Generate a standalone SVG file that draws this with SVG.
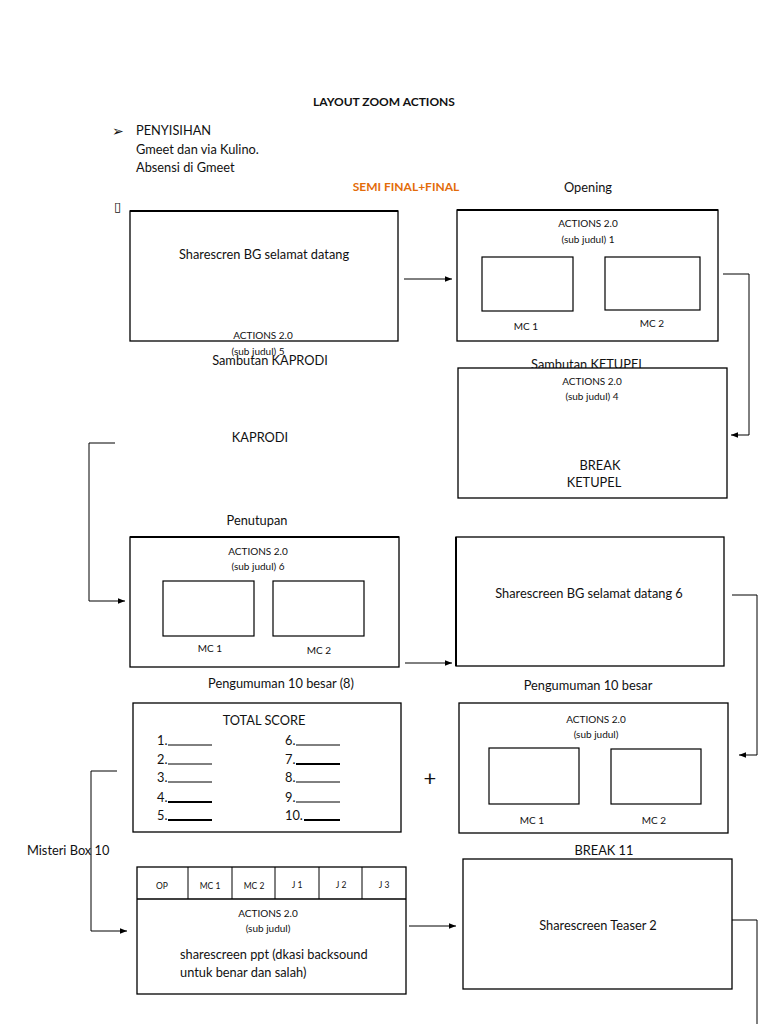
<svg xmlns="http://www.w3.org/2000/svg" width="768" height="1024" viewBox="0 0 768 1024">
<defs>
<style>
text{font-family:Lato,"Open Sans","Liberation Sans",sans-serif;fill:#111}
.t{font-size:12.8px}
.s{font-size:10px}
.xs{font-size:8.5px}
.c{text-anchor:middle}
.box{fill:#fff;stroke:#000;stroke-width:1.3}
.in{fill:#fff;stroke:#000;stroke-width:1.2}
.con{fill:none;stroke:#000;stroke-width:1}
.bl{stroke:#000;stroke-width:1}
</style>
<marker id="ah" viewBox="0 0 10 10" refX="10" refY="5" markerWidth="7" markerHeight="7" orient="auto" markerUnits="userSpaceOnUse"><path d="M0,1 L10,5 L0,9 z" fill="#000"/></marker>
</defs>
<rect width="768" height="1024" fill="#fff"/>

<g id="header">
<text x="384" y="106" class="c" style="font-size:12px;font-weight:bold">LAYOUT ZOOM ACTIONS</text>
<text x="112" y="136" style="font-size:14px;font-family:'DejaVu Sans',sans-serif">➢</text>
<text x="136" y="135" class="t">PENYISIHAN</text>
<text x="136" y="154" class="t">Gmeet dan via Kulino.</text>
<text x="136" y="172" class="t">Absensi di Gmeet</text>
<text x="406" y="191" class="c" style="font-size:12px;font-weight:bold;fill:#E36C0A">SEMI FINAL+FINAL</text>
<text x="114" y="211" style="font-size:13px;font-family:'DejaVu Sans',sans-serif">▯</text>
</g>

<g id="connectors">
<line x1="404" y1="279" x2="452" y2="279" class="con" marker-end="url(#ah)"/>
<polyline points="723,274 749,274 749,435 731,435" class="con" marker-end="url(#ah)"/>
<polyline points="115,443 89,443 89,601 125,601" class="con" marker-end="url(#ah)"/>
<line x1="405" y1="663" x2="452" y2="663" class="con" marker-end="url(#ah)"/>
<polyline points="732,595 757,595 757,755 739,755" class="con" marker-end="url(#ah)"/>
<polyline points="117,771 91,771 91,931 127,931" class="con" marker-end="url(#ah)"/>
<line x1="409" y1="926" x2="456" y2="926" class="con" marker-end="url(#ah)"/>
<polyline points="732,920 757,920 757,1024" class="con"/>
</g>

<g id="node-welcome">
<rect x="130" y="211" width="268" height="130" class="box"/>
<line x1="130" y1="211" x2="398" y2="211" stroke="#000" stroke-width="2"/>
<text x="264" y="259" class="t c">Sharescren BG selamat datang</text>
<text x="263" y="339" class="s c">ACTIONS 2.0</text>
<text x="258" y="355" class="s c">(sub judul) 5</text>
<text x="270" y="365" class="t c">Sambutan KAPRODI</text>
</g>

<g id="node-opening">
<text x="588" y="192" class="t c">Opening</text>
<rect x="457" y="210" width="261" height="131" class="box"/>
<line x1="457" y1="210" x2="718" y2="210" stroke="#000" stroke-width="2"/>
<text x="588" y="227" class="s c">ACTIONS 2.0</text>
<text x="588" y="243" class="s c">(sub judul) 1</text>
<rect x="482" y="257" width="91" height="54" class="in"/>
<rect x="605" y="257" width="95" height="53" class="in"/>
<text x="526" y="330" class="s c">MC 1</text>
<text x="652" y="327" class="s c">MC 2</text>
</g>

<g id="node-ketupel">
<text x="588" y="369" class="t c">Sambutan KETUPEL</text>
<rect x="458" y="368" width="269" height="130" class="box"/>
<text x="592" y="385" class="s c">ACTIONS 2.0</text>
<text x="592" y="400" class="s c">(sub judul) 4</text>
<text x="600" y="470" class="t c">BREAK</text>
<text x="594" y="487" class="t c">KETUPEL</text>
</g>

<g id="node-kaprodi">
<text x="260" y="442" class="t c">KAPRODI</text>
</g>

<g id="node-penutupan">
<text x="257" y="525" class="t c">Penutupan</text>
<rect x="130" y="537" width="269" height="130" class="box"/>
<line x1="130" y1="537" x2="399" y2="537" stroke="#000" stroke-width="1.8"/>
<text x="258" y="555" class="s c">ACTIONS 2.0</text>
<text x="258" y="570" class="s c">(sub judul) 6</text>
<rect x="163" y="581" width="91" height="55" class="in"/>
<rect x="273" y="581" width="91" height="55" class="in"/>
<text x="210" y="652" class="s c">MC 1</text>
<text x="319" y="654" class="s c">MC 2</text>
</g>

<g id="node-welcome6">
<rect x="456" y="537" width="268" height="129" class="box"/>
<line x1="456" y1="537" x2="456" y2="666" stroke="#000" stroke-width="2"/>
<text x="589" y="598" class="t c">Sharescreen BG selamat datang 6</text>
</g>

<g id="node-score">
<text x="281" y="688" class="t c">Pengumuman 10 besar (8)</text>
<rect x="133" y="703" width="268" height="129" class="box"/>
<text x="264" y="725" class="t c">TOTAL SCORE</text>
<g class="t">
<text x="157" y="745">1.</text><text x="157" y="764">2.</text><text x="157" y="782">3.</text><text x="157" y="802">4.</text><text x="157" y="820">5.</text>
<text x="285" y="745">6.</text><text x="285" y="764">7.</text><text x="285" y="782">8.</text><text x="285" y="802">9.</text><text x="285" y="820">10.</text>
</g>
<g class="bl">
<line x1="168" y1="745" x2="212" y2="745"/><line x1="168" y1="764" x2="212" y2="764"/><line x1="168" y1="782" x2="212" y2="782"/><line x1="168" y1="802" x2="212" y2="802" stroke-width="1.8"/><line x1="168" y1="820" x2="212" y2="820" stroke-width="1.8"/>
<line x1="296" y1="745" x2="340" y2="745"/><line x1="296" y1="764" x2="340" y2="764" stroke-width="1.8"/><line x1="296" y1="782" x2="340" y2="782"/><line x1="296" y1="802" x2="340" y2="802"/><line x1="304" y1="820" x2="340" y2="820" stroke-width="1.8"/>
</g>
<text x="430" y="786" class="c" style="font-size:22px">+</text>
</g>

<g id="node-top10">
<text x="588" y="690" class="t c">Pengumuman 10 besar</text>
<rect x="459" y="703" width="269" height="130" class="box"/>
<text x="596" y="723" class="s c">ACTIONS 2.0</text>
<text x="596" y="738" class="s c">(sub judul)</text>
<rect x="489" y="748" width="90" height="56" class="in"/>
<rect x="611" y="749" width="90" height="55" class="in"/>
<text x="532" y="824" class="s c">MC 1</text>
<text x="654" y="824" class="s c">MC 2</text>
</g>

<g id="node-misteri">
<text x="27" y="855" class="t">Misteri Box 10</text>
<rect x="137" y="867" width="269" height="127" class="box" stroke-width="1.6"/>
<line x1="137" y1="899" x2="406" y2="899" stroke="#000" stroke-width="1.3"/>
<g class="bl" stroke-width="1.3">
<line x1="188" y1="867" x2="188" y2="899"/><line x1="232" y1="867" x2="232" y2="899"/><line x1="275" y1="867" x2="275" y2="899"/><line x1="319" y1="867" x2="319" y2="899"/><line x1="362" y1="867" x2="362" y2="899"/>
</g>
<g class="xs c">
<text x="162" y="889">OP</text><text x="210" y="889">MC 1</text><text x="254" y="889">MC 2</text><text x="297" y="888">J 1</text><text x="341" y="888">J 2</text><text x="384" y="888">J 3</text>
</g>
<text x="268" y="917" class="s c">ACTIONS 2.0</text>
<text x="268" y="932" class="s c">(sub judul)</text>
<text x="180" y="959" class="t">sharescreen ppt (dkasi backsound</text>
<text x="180" y="977" class="t">untuk benar dan salah)</text>
</g>

<g id="node-teaser">
<text x="604" y="855" class="t c">BREAK 11</text>
<rect x="463" y="859" width="269" height="130" class="box"/>
<text x="598" y="930" class="t c">Sharescreen Teaser 2</text>
</g>
</svg>
